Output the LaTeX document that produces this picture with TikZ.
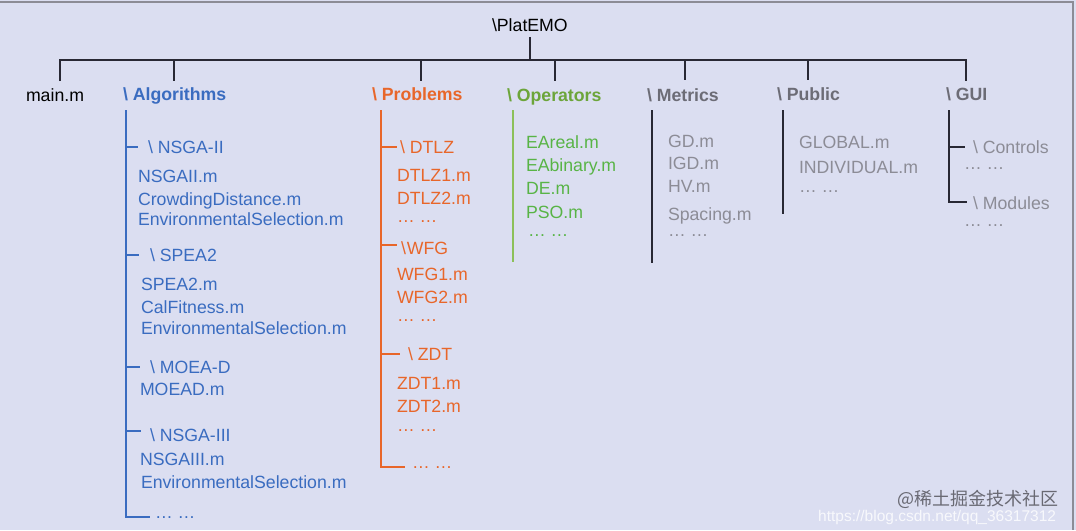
\documentclass[tikz,border=0pt]{standalone}
\usepackage{fontspec}
\setmainfont{Liberation Sans}
\newfontfamily\cjkfont{Noto Sans CJK SC}
\usetikzlibrary{calc}
\definecolor{bgc}{RGB}{219,222,241}
\definecolor{framec}{RGB}{140,140,150}
\definecolor{linec}{RGB}{40,40,52}
\definecolor{bluec}{RGB}{58,108,192}
\definecolor{orangec}{RGB}{232,102,42}
\definecolor{greenh}{RGB}{108,165,58}
\definecolor{greeni}{RGB}{88,180,70}
\definecolor{greenl}{RGB}{140,192,90}
\definecolor{grayh}{RGB}{108,108,118}
\definecolor{grayi}{RGB}{140,140,150}
\definecolor{wmc}{RGB}{105,105,115}
\tikzset{
  txt/.style={anchor=base west,inner sep=0pt,outer sep=0pt,font=\fontsize{17.7}{21}\selectfont},
  hdr/.style={txt,font=\fontsize{17.7}{21}\selectfont\bfseries},
  tree/.style={line width=2pt,draw=linec},
  bl/.style={txt,text=bluec},
  orr/.style={txt,text=orangec},
  gr/.style={txt,text=greeni},
  gy/.style={txt,text=grayi},
  dt/.style={text height=3pt,text depth=0pt},
}
\begin{document}
\begin{tikzpicture}[x=1pt,y=-1pt]
\fill[bgc] (0,0) rectangle (1076,530);
\useasboundingbox (0,0) rectangle (1076,530);
\draw[framec,line width=2pt] (0,2) -- (1073,2) -- (1073,530);

% root and headers
\node[txt,text=black] (root) at (492,31) {\textbackslash PlatEMO};
\node[txt,text=black] (main) at (26,101) {main.m};
\node[hdr,text=bluec] (alg) at (123,100) {\textbackslash\ Algorithms};
\node[hdr,text=orangec] (prob) at (372,100) {\textbackslash\ Problems};
\node[hdr,text=greenh] (ope) at (507,101) {\textbackslash\ Operators};
\node[hdr,text=grayh] (met) at (647,101) {\textbackslash\ Metrics};
\node[hdr,text=grayh] (pub) at (777,100) {\textbackslash\ Public};
\node[hdr,text=grayh] (gui) at (946,100) {\textbackslash\ GUI};

% top tree
\coordinate (rootB) at (530,37);
\coordinate (busM) at (530,60);
\coordinate (busL) at (60,60);
\coordinate (busR) at (966,60);
\draw[tree] (rootB) -- (busM);
\draw[tree] (60,81) -- (busL) -- (busR) -- (966,81);
\draw[tree] (174,60) -- (174,81);
\draw[tree] (421,60) -- (421,81);
\draw[tree] (555,60) -- (555,81);
\draw[tree] (685,60) -- (685,80);
\draw[tree] (808,60) -- (808,80);

% Algorithms column
\coordinate (aT) at (126,110);
\coordinate (aB) at (126,517);
\draw[line width=2pt,bluec] (aT) -- (aB) -- (150,517);
\draw[line width=1.6pt,bluec] (126,147) -- (138,147);
\draw[line width=1.6pt,bluec] (126,255) -- (139,255);
\draw[line width=1.6pt,bluec] (126,367) -- (140,367);
\draw[line width=1.6pt,bluec] (126,431) -- (141,431);
\node[bl] (a1) at (148,153) {\textbackslash\ NSGA-II};
\node[bl] (a1a) at (138,182) {NSGAII.m};
\node[bl] (a1b) at (138,205) {CrowdingDistance.m};
\node[bl] (a1c) at (138,225) {EnvironmentalSelection.m};
\node[bl] (a2) at (150,261) {\textbackslash\ SPEA2};
\node[bl] (a2a) at (141,290) {SPEA2.m};
\node[bl] (a2b) at (141,313) {CalFitness.m};
\node[bl] (a2c) at (141,334) {EnvironmentalSelection.m};
\node[bl] (a3) at (150,373) {\textbackslash\ MOEA-D};
\node[bl] (a3a) at (140,395) {MOEAD.m};
\node[bl] (a4) at (150,441) {\textbackslash\ NSGA-III};
\node[bl] (a4a) at (140,465) {NSGAIII.m};
\node[bl] (a4b) at (141,488) {EnvironmentalSelection.m};
\node[bl,dt] (a5) at (155,518) {… …};

% Problems column
\coordinate (pT) at (381,110);
\coordinate (pB) at (381,467);
\draw[line width=2pt,orangec] (pT) -- (pB) -- (405,467);
\draw[line width=1.6pt,orangec] (381,147) -- (397,147);
\draw[line width=1.6pt,orangec] (381,245) -- (397,245);
\draw[line width=1.6pt,orangec] (381,354) -- (400,354);
\node[orr] (p1) at (400,153) {\textbackslash\ DTLZ};
\node[orr] (p1a) at (397,181) {DTLZ1.m};
\node[orr] (p1b) at (397,204) {DTLZ2.m};
\node[orr,dt] (p1c) at (397,222) {… …};
\node[orr] (p2) at (401,254) {\textbackslash\kern1pt WFG};
\node[orr] (p2a) at (397,280) {WFG1.m};
\node[orr] (p2b) at (397,303) {WFG2.m};
\node[orr,dt] (p2c) at (397,321) {… …};
\node[orr] (p3) at (408,360) {\textbackslash\ ZDT};
\node[orr] (p3a) at (397,389) {ZDT1.m};
\node[orr] (p3b) at (397,412) {ZDT2.m};
\node[orr,dt] (p3c) at (397,431) {… …};
\node[orr,dt] (p4) at (412,468) {… …};

% Operators column
\draw[line width=2pt,greenl] (513,110) -- (513,262);
\node[gr] (o1) at (526,148) {EAreal.m};
\node[gr] (o2) at (526,171) {EAbinary.m};
\node[gr] (o3) at (526,194) {DE.m};
\node[gr] (o4) at (526,218) {PSO.m};
\node[gr,dt] (o5) at (528,236) {… …};

% Metrics column
\draw[tree] (652,110) -- (652,263);
\node[gy] (m1) at (668,147) {GD.m};
\node[gy] (m2) at (668,169) {IGD.m};
\node[gy] (m3) at (668,192) {HV.m};
\node[gy] (m4) at (668,220) {Spacing.m};
\node[gy,dt] (m5) at (668,236) {… …};

% Public column
\draw[tree] (783,110) -- (783,214);
\node[gy] (u1) at (799,148) {GLOBAL.m};
\node[gy] (u2) at (799,173) {INDIVIDUAL.m};
\node[gy,dt] (u3) at (799,192) {… …};

% GUI column
\draw[tree] (949,110) -- (949,202) -- (967,202);
\draw[tree] (949,147) -- (965,147);
\node[gy] (g1) at (973,153) {\textbackslash\ Controls};
\node[gy,dt] (g1a) at (964,169) {… …};
\node[gy] (g2) at (973,209) {\textbackslash\ Modules};
\node[gy,dt] (g2a) at (964,226) {… …};

% watermark
\node[anchor=base west,inner sep=0pt,text=white,opacity=0.8,font=\fontsize{15.5}{18}\selectfont,text height=9pt,text depth=0pt] (wm2) at (818,521) {https://blog.csdn.net/qq\_36317312};
\node[anchor=base west,inner sep=0pt,text=wmc,font=\cjkfont\fontsize{18}{20}\selectfont,text depth=0pt] (wm1) at (897,505) {@稀土掘金技术社区};
\end{tikzpicture}
\end{document}
